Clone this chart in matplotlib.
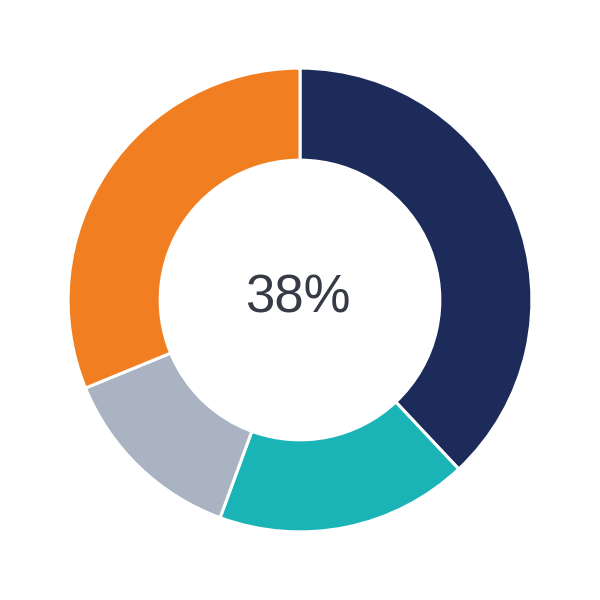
import matplotlib
matplotlib.use("Agg")
import matplotlib.pyplot as plt

labels = ["Navy", "Teal", "Gray", "Orange"]
values = [38, 17.6, 13.2, 31.2]
colors = ["#1c2b5a", "#1bb4b6", "#a9b3c1", "#f17e21"]
center_label = "38%"

fig = plt.figure(figsize=(6, 6), dpi=100)
ax = fig.add_axes([0, 0, 1, 1])
ax.pie(values, colors=colors, startangle=90, counterclock=False, radius=1.0,
       wedgeprops=dict(width=0.397, edgecolor="white", linewidth=2.2))
lim = 1.0 / 0.773
ax.set_xlim(-lim, lim)
ax.set_ylim(-lim, lim)
ax.set_aspect("equal")
ax.axis("off")
ax.text(-0.009, 0.008, center_label, ha="center", va="center", fontsize=38,
        family="Liberation Sans", color="#363b45")
fig.savefig("out.png", dpi=100, facecolor="white")
